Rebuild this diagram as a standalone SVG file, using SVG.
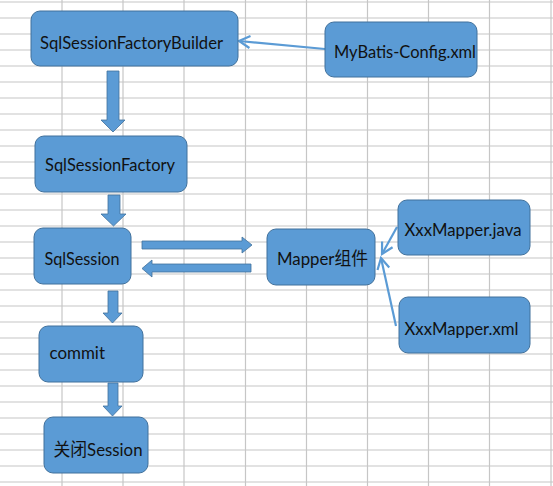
<svg xmlns="http://www.w3.org/2000/svg" width="553" height="486" viewBox="0 0 553 486">
<defs>
<style>
.grid line{stroke:#c6c6c6;stroke-width:1.2}
.box{fill:#5b9bd5;stroke:#41719c;stroke-width:1}
.blk{fill:#5b9bd5;stroke:#41719c;stroke-width:0.8}
.lbl{font-family:Lato,"Noto Sans","Noto Sans CJK SC",sans-serif;font-size:18px;fill:#111}
.thin{stroke:#5b9bd5;stroke-width:2.2;fill:none}
</style>
<marker id="open" markerUnits="userSpaceOnUse" markerWidth="16" markerHeight="16" refX="12" refY="8" orient="auto" viewBox="0 0 16 16">
<path d="M1,2 L12,8 L1,14" fill="none" stroke="#5b9bd5" stroke-width="2.2"/>
</marker>
</defs>
<rect width="553" height="486" fill="#ffffff"/>
<g class="grid">
<line x1="62" y1="0" x2="62" y2="486"/>
<line x1="123" y1="0" x2="123" y2="486"/>
<line x1="184" y1="0" x2="184" y2="486"/>
<line x1="245.5" y1="0" x2="245.5" y2="486"/>
<line x1="306.5" y1="0" x2="306.5" y2="486"/>
<line x1="367.5" y1="0" x2="367.5" y2="486"/>
<line x1="428.5" y1="0" x2="428.5" y2="486"/>
<line x1="489.5" y1="0" x2="489.5" y2="486"/>
<line x1="551" y1="0" x2="551" y2="486"/>
<line x1="0" y1="2" x2="553" y2="2"/>
<line x1="0" y1="18" x2="553" y2="18"/>
<line x1="0" y1="34" x2="553" y2="34"/>
<line x1="0" y1="50" x2="553" y2="50"/>
<line x1="0" y1="66" x2="553" y2="66"/>
<line x1="0" y1="82" x2="553" y2="82"/>
<line x1="0" y1="98" x2="553" y2="98"/>
<line x1="0" y1="114" x2="553" y2="114"/>
<line x1="0" y1="130" x2="553" y2="130"/>
<line x1="0" y1="146" x2="553" y2="146"/>
<line x1="0" y1="162" x2="553" y2="162"/>
<line x1="0" y1="178" x2="553" y2="178"/>
<line x1="0" y1="194" x2="553" y2="194"/>
<line x1="0" y1="210" x2="553" y2="210"/>
<line x1="0" y1="226" x2="553" y2="226"/>
<line x1="0" y1="242" x2="553" y2="242"/>
<line x1="0" y1="258" x2="553" y2="258"/>
<line x1="0" y1="274" x2="553" y2="274"/>
<line x1="0" y1="290" x2="553" y2="290"/>
<line x1="0" y1="306" x2="553" y2="306"/>
<line x1="0" y1="322" x2="553" y2="322"/>
<line x1="0" y1="338" x2="553" y2="338"/>
<line x1="0" y1="354" x2="553" y2="354"/>
<line x1="0" y1="370" x2="553" y2="370"/>
<line x1="0" y1="386" x2="553" y2="386"/>
<line x1="0" y1="402" x2="553" y2="402"/>
<line x1="0" y1="418" x2="553" y2="418"/>
<line x1="0" y1="434" x2="553" y2="434"/>
<line x1="0" y1="450" x2="553" y2="450"/>
<line x1="0" y1="466" x2="553" y2="466"/>
<line x1="0" y1="482" x2="553" y2="482"/>
</g>
<g id="connectors">
<polygon class="blk" points="107,71 119,71 119,120 125,120 113,132 101,120 107,120"/>
<polygon class="blk" points="108,195 120,195 120,214 126,214 113.5,226 101,214 108,214"/>
<polygon class="blk" points="108,291 118,291 118,313 122,313 112.5,323 103,313 108,313"/>
<polygon class="blk" points="108,383 118,383 118,406 122,406 112.5,416 103,406 108,406"/>
<polygon class="blk" points="142,241 242,241 242,237 252,245 242,253 242,249 142,249"/>
<polygon class="blk" points="251,264 152,264 152,260 142,268.5 152,277 152,272 251,272"/>
<line class="thin" x1="325" y1="49" x2="239" y2="41" marker-end="url(#open)"/>
<line class="thin" x1="397" y1="227" x2="382" y2="254" marker-end="url(#open)"/>
<line class="thin" x1="396" y1="326" x2="381" y2="258" marker-end="url(#open)"/>
</g>
<g id="n-builder">
<rect class="box" x="31" y="11" width="207" height="55" rx="9"/>
<text class="lbl" x="40" y="48.5" textLength="183" lengthAdjust="spacingAndGlyphs">SqlSessionFactoryBuilder</text>
</g>
<g id="n-config">
<rect class="box" x="325" y="22" width="152" height="55" rx="9"/>
<text class="lbl" x="334" y="57.5" textLength="142" lengthAdjust="spacingAndGlyphs">MyBatis-Config.xml</text>
</g>
<g id="n-factory">
<rect class="box" x="35" y="136" width="152" height="56" rx="9"/>
<text class="lbl" x="45" y="171" textLength="130" lengthAdjust="spacingAndGlyphs">SqlSessionFactory</text>
</g>
<g id="n-session">
<rect class="box" x="34" y="228" width="97" height="56" rx="9"/>
<text class="lbl" x="44.5" y="264.5" textLength="75" lengthAdjust="spacingAndGlyphs">SqlSession</text>
</g>
<g id="n-mapper">
<rect class="box" x="267" y="229" width="108" height="56" rx="9"/>
<text class="lbl" x="277" y="264.5" textLength="91" lengthAdjust="spacingAndGlyphs">Mapper组件</text>
</g>
<g id="n-java">
<rect class="box" x="398" y="200" width="132" height="55" rx="9"/>
<text class="lbl" x="404.5" y="235.5" textLength="117" lengthAdjust="spacingAndGlyphs">XxxMapper.java</text>
</g>
<g id="n-xml">
<rect class="box" x="399" y="297" width="131" height="56" rx="9"/>
<text class="lbl" x="404.5" y="334.5" textLength="114" lengthAdjust="spacingAndGlyphs">XxxMapper.xml</text>
</g>
<g id="n-commit">
<rect class="box" x="39" y="326" width="104" height="56" rx="9"/>
<text class="lbl" x="49.5" y="358.5" textLength="55.5" lengthAdjust="spacingAndGlyphs">commit</text>
</g>
<g id="n-close">
<rect class="box" x="44" y="417" width="104" height="56" rx="9"/>
<text class="lbl" x="53.5" y="455.5" textLength="89" lengthAdjust="spacingAndGlyphs">关闭Session</text>
</g>
</svg>
